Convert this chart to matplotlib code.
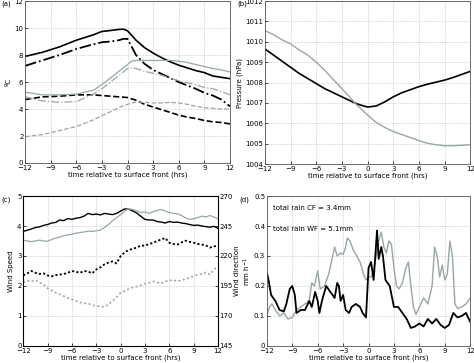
import numpy as np
import matplotlib
matplotlib.use("Agg")
import matplotlib.pyplot as plt

# ---- panel (a): temperature ----
hrs_a = [-12, -10, -8, -6, -4, -3, -2, -1, -0.5, 0, 0.5, 1, 2, 3, 4, 5, 6, 7, 8, 9, 10, 11, 12]
t_cf_solid = [7.9, 8.2, 8.6, 9.1, 9.5, 9.75, 9.82, 9.9, 9.92, 9.8, 9.45, 9.1, 8.55, 8.15, 7.8, 7.5, 7.25, 7.05, 6.85, 6.7, 6.45, 6.35, 6.25]
t_cf_dashdot = [7.2, 7.6, 8.0, 8.45, 8.8, 8.95, 9.0, 9.1, 9.2, 9.2, 8.6, 8.0, 7.35, 6.9, 6.6, 6.3, 6.0, 5.75, 5.5, 5.2, 5.0, 4.7, 4.2]
t_cf_dashed = [4.7, 4.9, 4.95, 5.05, 5.05, 5.0, 4.95, 4.9, 4.88, 4.85, 4.75, 4.65, 4.35, 4.15, 3.95, 3.75, 3.55, 3.4, 3.3, 3.15, 3.05, 3.0, 2.9]
t_wf_solid = [5.25, 5.05, 5.05, 5.1, 5.4, 5.8, 6.3, 6.8, 7.05, 7.3, 7.55, 7.6, 7.6, 7.6, 7.6, 7.6, 7.55, 7.45, 7.3, 7.15, 7.0, 6.9, 6.75]
t_wf_dashdot = [4.9, 4.6, 4.5, 4.55, 5.1, 5.5, 6.0, 6.5, 6.75, 7.0, 7.05, 7.0, 6.8, 6.65, 6.5, 6.3, 6.1, 5.95, 5.8, 5.6, 5.5, 5.3, 5.05]
t_wf_dashed = [1.95, 2.1, 2.4, 2.7, 3.2, 3.5, 3.8, 4.1, 4.25, 4.35, 4.45, 4.5, 4.5, 4.45, 4.45, 4.5, 4.45, 4.35, 4.2, 4.1, 4.05, 4.0, 4.0]

# ---- panel (b): pressure ----
hrs_b = [-12, -11, -10, -9, -8, -7, -6, -5, -4, -3, -2, -1.5, -1, 0, 1, 2, 3, 4, 5, 6, 7, 8, 9, 10, 11, 12]
p_cf = [1009.65, 1009.35, 1009.05, 1008.75, 1008.45, 1008.2, 1007.95, 1007.7, 1007.5, 1007.3, 1007.1, 1007.0, 1006.92, 1006.8, 1006.85, 1007.05, 1007.3, 1007.5, 1007.65, 1007.8, 1007.92, 1008.02, 1008.12, 1008.25, 1008.4, 1008.55]
p_wf = [1010.55, 1010.35, 1010.1, 1009.9, 1009.6, 1009.35, 1009.0, 1008.6, 1008.15, 1007.7, 1007.25, 1007.0, 1006.8, 1006.4, 1006.05, 1005.8, 1005.6, 1005.45, 1005.3, 1005.15, 1005.02, 1004.95, 1004.9, 1004.9, 1004.92, 1004.95]

# ---- panel (c): wind, every half hour ----
hrs_c = [h / 2 for h in range(-24, 25)]
ws_cf = [3.82, 3.86, 3.9, 3.95, 3.97, 4.02, 4.05, 4.1, 4.12, 4.2, 4.18, 4.25, 4.22, 4.26, 4.28, 4.33, 4.42, 4.38, 4.4, 4.37,
         4.42, 4.4, 4.38, 4.42, 4.5, 4.57, 4.56, 4.5, 4.43, 4.32, 4.22, 4.2, 4.2, 4.15, 4.13, 4.1, 4.15, 4.12, 4.13, 4.1,
         4.08, 4.05, 4.02, 4.03, 4.0, 3.98, 3.96, 3.99, 3.92]
ws_wf = [3.53, 3.5, 3.48, 3.5, 3.53, 3.5, 3.49, 3.55, 3.6, 3.63, 3.68, 3.7, 3.73, 3.76, 3.78, 3.8, 3.83, 3.82, 3.84, 3.86,
         3.95, 4.05, 4.17, 4.28, 4.38, 4.5, 4.57, 4.55, 4.5, 4.45, 4.47, 4.42, 4.48, 4.52, 4.55, 4.5, 4.45, 4.42, 4.4, 4.35,
         4.27, 4.22, 4.24, 4.28, 4.33, 4.3, 4.35, 4.3, 4.24]
wd_cf = [203.8, 205.5, 207.5, 206, 205, 205.5, 203.8, 203, 204, 204.5, 205, 206, 207.5, 206.8, 206, 207.5, 207, 205.5, 208.8, 210.5,
         213, 214.5, 215.5, 213.8, 220, 223, 225, 226, 227, 228.8, 228.5, 230, 231, 232.5, 233.8, 235, 231, 230, 229.5, 231.3,
         232.8, 231.8, 231, 230, 229.5, 228.8, 227, 228, 228.5]
wd_wf = [198, 199.5, 198.8, 200, 198, 196.3, 193, 191.3, 189.3, 188, 186.5, 185, 183.8, 182.5, 181.3, 180.5, 180.3, 179, 178.3, 178,
         177.5, 179.5, 182.5, 185.5, 189.3, 190.8, 192.5, 193.8, 194.5, 195.5, 196.8, 197.5, 198.8, 198, 197, 198.8, 199.5, 200, 198.8, 200,
         200.5, 202, 203.3, 204.5, 205, 206.3, 204.5, 208.8, 211.3]

# ---- panel (d): rain rate ----
hrs_d_cf = [-12, -11.8, -11.5, -11, -10.5, -10, -9.7, -9.3, -9, -8.7, -8.5, -8, -7.5, -7, -6.7, -6.3, -6, -5.8, -5.5, -5,
            -4.5, -4, -3.7, -3.5, -3.3, -3, -2.7, -2.3, -2, -1.5, -1, -0.7, -0.3, 0, 0.3, 0.6, 0.8, 1.0, 1.2, 1.5,
            1.7, 2, 2.5, 3, 3.5, 4, 4.5, 5, 5.5, 6, 6.5, 7, 7.5, 8, 8.5, 9, 9.5, 10, 10.5, 11, 11.5, 12]
rain_cf = [0.245, 0.22, 0.17, 0.15, 0.12, 0.115, 0.14, 0.19, 0.2, 0.17, 0.11, 0.12, 0.12, 0.15, 0.13, 0.18, 0.15, 0.11, 0.15, 0.2,
           0.18, 0.16, 0.21, 0.2, 0.15, 0.17, 0.12, 0.11, 0.13, 0.14, 0.13, 0.11, 0.095, 0.26, 0.28, 0.22, 0.30, 0.385, 0.29, 0.33,
           0.30, 0.22, 0.20, 0.13, 0.13, 0.11, 0.09, 0.06, 0.065, 0.075, 0.065, 0.09, 0.075, 0.09, 0.07, 0.06, 0.07, 0.11, 0.095, 0.10,
           0.11, 0.08]
hrs_d_wf = [-12, -11.7, -11.4, -11, -10.5, -10, -9.5, -9, -8.5, -8, -7.5, -7, -6.7, -6.4, -6, -5.7, -5.2, -4.7, -4.3, -4,
            -3.7, -3.3, -3, -2.7, -2.5, -2.2, -1.8, -1.4, -1, -0.6, -0.3, 0, 0.3, 0.6, 0.9, 1.2, 1.5, 1.8, 2.1, 2.4,
            2.7, 3, 3.3, 3.6, 4, 4.4, 4.7, 5.0, 5.3, 5.6, 6, 6.5, 7, 7.5, 7.8, 8.1, 8.4, 8.7, 9, 9.3,
            9.6, 9.9, 10.2, 10.5, 11, 11.5, 12]
rain_wf = [0.10, 0.13, 0.14, 0.12, 0.10, 0.11, 0.09, 0.095, 0.12, 0.13, 0.14, 0.15, 0.21, 0.20, 0.25, 0.19, 0.20, 0.24, 0.29, 0.33,
           0.30, 0.31, 0.305, 0.33, 0.36, 0.35, 0.32, 0.30, 0.28, 0.24, 0.22, 0.23, 0.23, 0.25, 0.30, 0.35, 0.38, 0.33, 0.31, 0.35,
           0.34, 0.26, 0.20, 0.19, 0.21, 0.26, 0.28, 0.20, 0.13, 0.105, 0.13, 0.16, 0.14, 0.20, 0.33, 0.30, 0.23, 0.27, 0.22, 0.24,
           0.35, 0.30, 0.14, 0.125, 0.13, 0.14, 0.16]

GREY = '#98a6a6'
XLAB = 'time relative to surface front (hrs)'
FS = 5

plt.rcParams['font.family'] = ['DejaVu Sans']
fig = plt.figure(figsize=(4.74, 3.63), dpi=100)


def style(ax):
    ax.set_xlim(-12, 12)
    ax.set_xticks(range(-12, 13, 3))
    ax.grid(True, linestyle=':', color='#b0b0b0', linewidth=0.5)
    ax.tick_params(direction='in', labelsize=FS, length=2, width=0.5, pad=1.2)
    for s in ax.spines.values():
        s.set_linewidth(0.6)
        s.set_color('#555555')
    ax.set_xlabel(XLAB, fontsize=FS, labelpad=0.5)


# (a)
ax_a = fig.add_axes([0.053, 0.551, 0.432, 0.446])
ax_a.plot(hrs_a, t_cf_solid, color='black', lw=1.2)
ax_a.plot(hrs_a, t_cf_dashdot, color='black', lw=1.3, ls='-.')
ax_a.plot(hrs_a, t_cf_dashed, color='black', lw=1.2, ls='--')
ax_a.plot(hrs_a, t_wf_solid, color=GREY, lw=0.9)
ax_a.plot(hrs_a, t_wf_dashdot, color=GREY, lw=0.9, ls='-.')
ax_a.plot(hrs_a, t_wf_dashed, color=GREY, lw=0.9, ls='--')
ax_a.set_ylim(0, 12)
ax_a.set_yticks(range(0, 13, 2))
style(ax_a)
ax_a.set_ylabel('ºC', fontsize=FS, labelpad=2)
fig.text(0.002, 0.985, '(a)', fontsize=FS)

# (b)
ax_b = fig.add_axes([0.559, 0.548, 0.433, 0.449])
ax_b.plot(hrs_b, p_cf, color='black', lw=1.2)
ax_b.plot(hrs_b, p_wf, color=GREY, lw=1.0)
ax_b.set_ylim(1004, 1012)
ax_b.set_yticks(range(1004, 1013))
style(ax_b)
ax_b.set_ylabel('Pressure (hPa)', fontsize=FS, labelpad=2)
fig.text(0.500, 0.985, '(b)', fontsize=FS)

# (c)
ax_c = fig.add_axes([0.049, 0.047, 0.411, 0.413])
ax_c.plot(hrs_c, ws_cf, color='black', lw=1.0)
ax_c.plot(hrs_c, ws_wf, color=GREY, lw=0.9)
ax_c.set_ylim(0, 5)
ax_c.set_yticks(range(0, 6))
style(ax_c)
ax_c.set_ylabel('Wind Speed', fontsize=FS, labelpad=2)
ax_c2 = ax_c.twinx()
ax_c2.plot(hrs_c, wd_cf, color='black', lw=1.3, ls=(0, (1.2, 1.2)))
ax_c2.plot(hrs_c, wd_wf, color=GREY, lw=1.2, ls=(0, (1.2, 1.5)))
ax_c2.set_ylim(145, 270)
ax_c2.set_yticks(range(145, 271, 25))
ax_c2.tick_params(direction='in', labelsize=FS, length=2, width=0.5, pad=1.2)
ax_c2.set_ylabel('Wind direction', fontsize=FS, labelpad=0.5)
fig.text(0.002, 0.445, '(c)', fontsize=FS)

# (d)
ax_d = fig.add_axes([0.563, 0.047, 0.429, 0.413])
ax_d.plot(hrs_d_wf, rain_wf, color=GREY, lw=1.0)
ax_d.plot(hrs_d_cf, rain_cf, color='black', lw=1.3)
ax_d.set_ylim(0, 0.5)
ax_d.set_yticks([0, 0.1, 0.2, 0.3, 0.4, 0.5])
ax_d.set_yticklabels(['0', '0.1', '0.2', '0.3', '0.4', '0.5'])
style(ax_d)
ax_d.set_ylabel('mm h$^{-1}$', fontsize=FS, labelpad=1)
ax_d.text(-11.3, 0.455, 'total rain CF = 3.4mm', fontsize=FS)
ax_d.text(-11.3, 0.385, 'total rain WF = 5.1mm', fontsize=FS)
fig.text(0.506, 0.445, '(d)', fontsize=FS)

fig.savefig('out.png', dpi=100)
